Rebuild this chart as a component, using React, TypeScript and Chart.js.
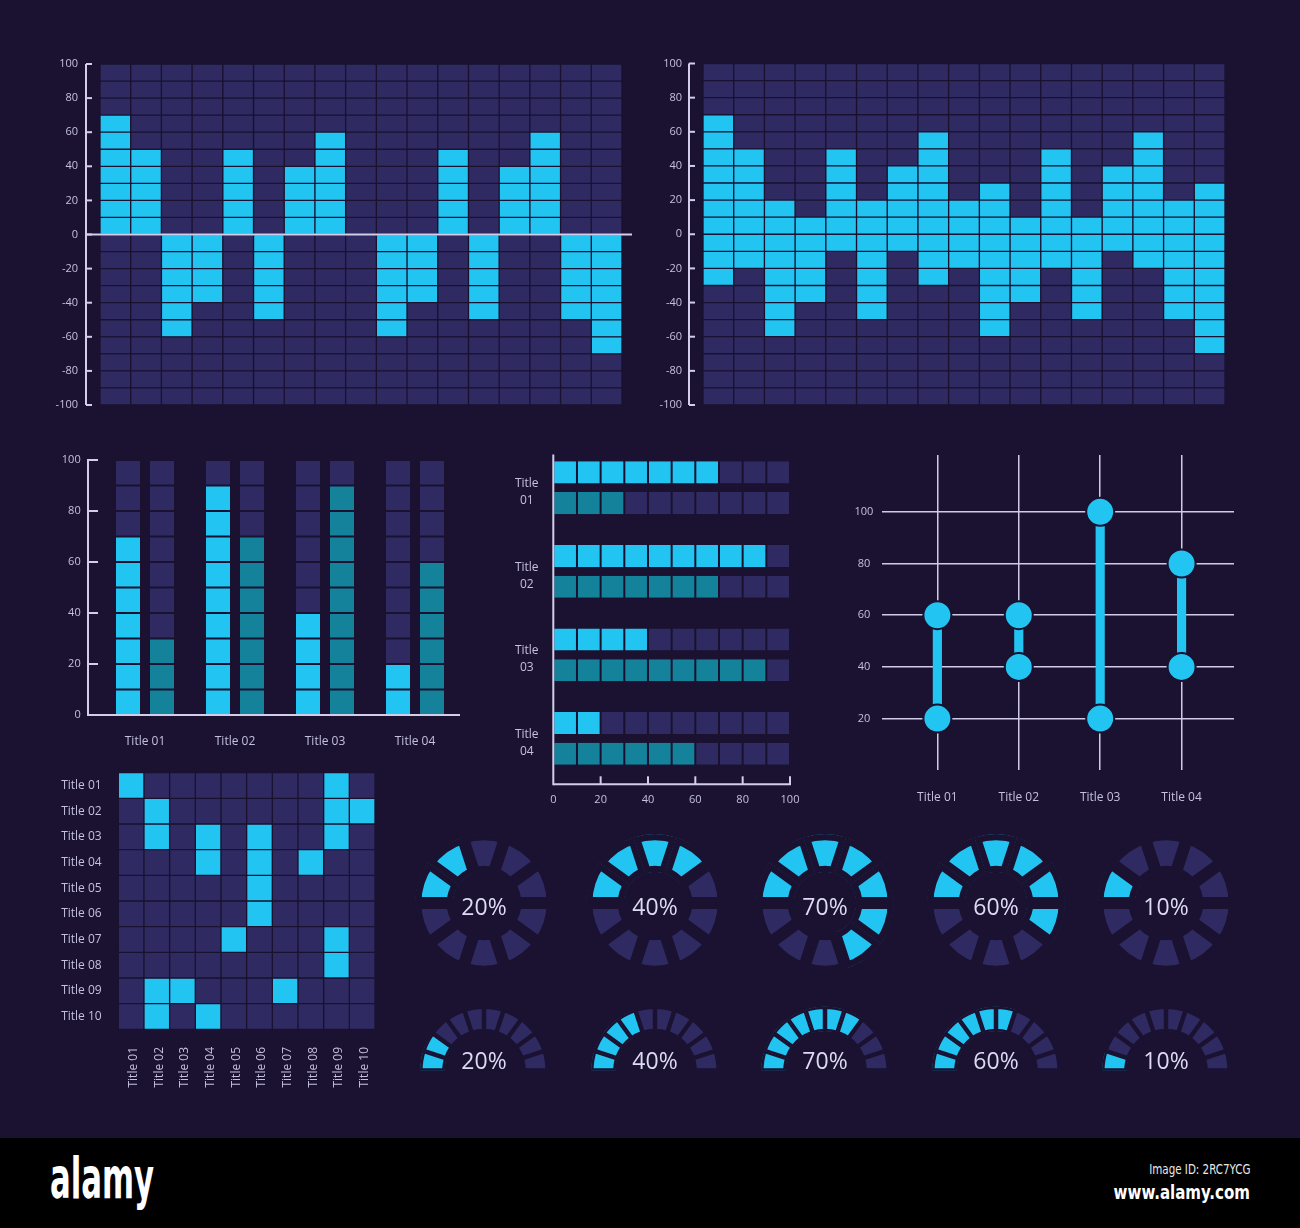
import React, { useEffect, useRef } from 'react';
import { Chart, registerables } from 'chart.js';

Chart.register(...registerables);

const BG = '#1a1230';
const CELL = '#2f2b62';
const CYAN = '#22c4f2';
const TEAL = '#15829b';
const TEXT = '#c4c0dd';
const AXIS = '#d2cee9';
const GRID = '#cfcbe6';
const PCT_TEXT = '#dedaf3';
const FONT = '"Open Sans", "Noto Sans", "DejaVu Sans", sans-serif';
const NARROW = '"Liberation Sans Narrow", "DejaVu Sans Condensed", sans-serif';

Chart.defaults.font.family = FONT;
Chart.defaults.color = TEXT;

// ---------------- data ----------------
const signedValues = [70, 50, -60, -40, 50, -50, 40, 60, 0, -60, -40, 50, -50, 40, 60, -50, -70];
const spanLows = [-30, -20, -60, -40, -10, -50, -10, -30, -20, -60, -40, -20, -50, -10, -20, -50, -70];
const spanHighs = [70, 50, 20, 10, 50, 20, 40, 60, 20, 30, 10, 50, 10, 40, 60, 20, 30];
const signedCellStarts = [-100, -90, -80, -70, -60, -50, -40, -30, -20, -10, 0, 10, 20, 30, 40, 50, 60, 70, 80, 90];
const signedTicks = [-100, -80, -60, -40, -20, 0, 20, 40, 60, 80, 100];
const percentCellStarts = [0, 10, 20, 30, 40, 50, 60, 70, 80, 90];
const percentTicks = [0, 20, 40, 60, 80, 100];
const CELL_STEP = 10;

const groupTitles = ['Title 01', 'Title 02', 'Title 03', 'Title 04'];
const primaryValues = [70, 90, 40, 20];
const secondaryValues = [30, 70, 90, 60];

const rangeStart = [20, 40, 20, 40];
const rangeEnd = [60, 60, 100, 80];
const rangeTicks = [20, 40, 60, 80, 100];

const matrixTitles = ['Title 01', 'Title 02', 'Title 03', 'Title 04', 'Title 05', 'Title 06', 'Title 07', 'Title 08', 'Title 09', 'Title 10'];
const matrixHits = [[1, 9], [2, 9, 10], [2, 4, 6, 9], [4, 6, 8], [6], [6], [5, 9], [9], [2, 3, 7], [2, 4]];

const gaugeValues = [20, 40, 70, 60, 10];
const gaugeSegments = [10, 10, 10, 10, 10, 10, 10, 10, 10, 10];

// ---------------- helpers ----------------
const base = () => ({
  responsive: false,
  maintainAspectRatio: false,
  animation: false as const,
  events: [] as any[],
  plugins: { legend: { display: false }, tooltip: { enabled: false } },
});

const fixedTicks = (vals: number[]) => (s: any) => {
  s.ticks = vals.map((value) => ({ value }));
};

function seg(ctx: CanvasRenderingContext2D, x1: number, y1: number, x2: number, y2: number, width = 2, color = AXIS) {
  ctx.save();
  ctx.beginPath();
  ctx.strokeStyle = color;
  ctx.lineWidth = width;
  ctx.lineCap = 'butt';
  ctx.moveTo(x1, y1);
  ctx.lineTo(x2, y2);
  ctx.stroke();
  ctx.restore();
}

const decor = (draw: (chart: any, ctx: CanvasRenderingContext2D) => void) => ({
  id: 'decor',
  afterDatasetsDraw(chart: any) {
    draw(chart, chart.ctx);
  },
});

const hidden = { display: false, drawTicks: false };

// ---------------- chart configs ----------------
function cellColumnsConfig(lows: number[], highs: number[], yWidth: number, pad: any, xMin: number, xMax: number, labelPad: number, zeroLine: boolean) {
  return {
    type: 'bar',
    data: {
      datasets: signedCellStarts.map((lo) => ({
        data: lows.map((_, i) => ({ x: i, y: [lo, lo + CELL_STEP] })),
        backgroundColor: lows.map((l, i) => (lo >= l && lo + CELL_STEP <= highs[i] ? CYAN : CELL)),
        borderColor: BG,
        borderWidth: 1,
        borderSkipped: false,
        grouped: false,
        categoryPercentage: 1,
        barPercentage: 1,
      })),
    },
    options: {
      ...base(),
      layout: { padding: pad },
      scales: {
        x: {
          type: 'linear',
          display: false,
          offset: false,
          min: xMin,
          max: xMax,
          afterBuildTicks: fixedTicks(lows.map((_, i) => i)),
        },
        y: {
          type: 'linear',
          min: -100,
          max: 100,
          afterFit: (s: any) => {
            s.width = yWidth;
          },
          afterBuildTicks: fixedTicks(signedTicks),
          ticks: { padding: labelPad, font: { size: 11 }, color: TEXT },
          grid: hidden,
          border: { display: false },
        },
      },
    },
    plugins: [
      decor((chart, ctx) => {
        const { left, right, top, bottom } = chart.chartArea;
        const ys = chart.scales.y;
        seg(ctx, left, top, left, bottom, 2);
        ys.ticks.forEach((t: any) => {
          const p = ys.getPixelForValue(t.value);
          seg(ctx, left, p, left + 6, p, 2);
        });
        if (zeroLine) {
          const p = ys.getPixelForValue(0);
          seg(ctx, left, p, right, p, 2);
        }
      }),
    ],
  };
}

const cellBars = (values: number[], stack: string, lit: string, horizontal: boolean, catPct: number, barPct: number) =>
  percentCellStarts.map((lo) => ({
    stack,
    data: values.map(() => [lo, lo + CELL_STEP]),
    backgroundColor: values.map((v) => (lo + CELL_STEP <= v ? lit : CELL)),
    borderColor: BG,
    borderWidth: horizontal ? { left: 1, right: 1, top: 0, bottom: 0 } : { top: 1, bottom: 1, left: 0, right: 0 },
    borderSkipped: false,
    categoryPercentage: catPct,
    barPercentage: barPct,
  }));

function columnConfig() {
  return {
    type: 'bar',
    data: {
      labels: groupTitles,
      datasets: [
        ...cellBars(primaryValues, 'A', CYAN, false, 0.7556, 0.706),
        ...cellBars(secondaryValues, 'B', TEAL, false, 0.7556, 0.706),
      ],
    },
    options: {
      ...base(),
      layout: { padding: { top: 28, right: 10, left: 0, bottom: 0 } },
      scales: {
        x: {
          stacked: true,
          afterFit: (s: any) => {
            s.height = 45;
          },
          grid: hidden,
          border: { display: false },
          ticks: { padding: 19.5, font: { size: 12 }, color: TEXT },
        },
        y: {
          type: 'linear',
          stacked: false,
          min: 0,
          max: 100,
          afterFit: (s: any) => {
            s.width = 60;
          },
          afterBuildTicks: fixedTicks(percentTicks),
          grid: hidden,
          border: { display: false },
          ticks: { padding: 19.3, font: { size: 11 }, color: TEXT },
        },
      },
    },
    plugins: [
      decor((chart, ctx) => {
        const { left, right } = chart.chartArea;
        const ys = chart.scales.y;
        const ax = left - 12;
        const y0 = ys.getPixelForValue(0);
        const y100 = ys.getPixelForValue(100);
        seg(ctx, ax, y100 - 1, ax, y0 + 1, 2);
        seg(ctx, ax, y0, right, y0, 2);
        ys.ticks.forEach((t: any) => {
          const p = ys.getPixelForValue(t.value);
          seg(ctx, ax, p, ax + 10, p, 2);
        });
      }),
    ],
  };
}

function rowConfig() {
  return {
    type: 'bar',
    data: {
      labels: groupTitles.map((t) => t.split(' ')),
      datasets: [
        ...cellBars(primaryValues, 'A', CYAN, true, 0.736, 0.717),
        ...cellBars(secondaryValues, 'B', TEAL, true, 0.736, 0.717),
      ],
    },
    options: {
      ...base(),
      indexAxis: 'y',
      layout: { padding: { top: 36, right: 26, left: 0, bottom: 0 } },
      scales: {
        y: {
          type: 'category',
          stacked: true,
          afterFit: (s: any) => {
            s.width = 58.3;
          },
          grid: hidden,
          border: { display: false },
          ticks: { crossAlign: 'center', padding: 14.7, labelOffset: 4.5, font: { size: 12, lineHeight: 1.4 }, color: TEXT },
        },
        x: {
          type: 'linear',
          stacked: false,
          min: 0,
          max: 100,
          afterFit: (s: any) => {
            s.height = 34.9;
          },
          afterBuildTicks: fixedTicks(percentTicks),
          grid: hidden,
          border: { display: false },
          ticks: { padding: 13.3, font: { size: 11 }, color: TEXT },
        },
      },
    },
    plugins: [
      decor((chart, ctx) => {
        const { top, bottom } = chart.chartArea;
        const xs = chart.scales.x;
        const ax = xs.getPixelForValue(0);
        const ay = bottom + 4.2;
        seg(ctx, ax, top + 8.5, ax, ay + 1, 2);
        seg(ctx, ax, ay, xs.getPixelForValue(100) + 1, ay, 2);
        xs.ticks.forEach((t: any) => {
          if (t.value > 0) {
            const p = xs.getPixelForValue(t.value);
            seg(ctx, p, ay, p, ay - 8, 2);
          }
        });
      }),
    ],
  };
}

function dumbbellConfig() {
  const pointStyle = {
    type: 'scatter',
    pointRadius: 14,
    pointBackgroundColor: CYAN,
    pointBorderColor: BG,
    pointBorderWidth: 2,
    order: 0,
  };
  return {
    type: 'bar',
    data: {
      datasets: [
        { ...pointStyle, data: rangeStart.map((v, i) => ({ x: i, y: v })) },
        { ...pointStyle, data: rangeEnd.map((v, i) => ({ x: i, y: v })) },
        {
          type: 'bar',
          data: rangeStart.map((v, i) => ({ x: i, y: [v, rangeEnd[i]] })),
          backgroundColor: CYAN,
          barThickness: 8.5,
          borderWidth: 0,
          order: 1,
        },
      ],
    },
    options: {
      ...base(),
      layout: { padding: { top: 16, right: 10, left: 0, bottom: 0 } },
      scales: {
        x: {
          type: 'linear',
          offset: false,
          min: -0.684,
          max: 3.644,
          afterFit: (s: any) => {
            s.height = 44.7;
          },
          afterBuildTicks: fixedTicks(groupTitles.map((_, i) => i)),
          grid: { color: GRID, lineWidth: 1.5, drawTicks: false, offset: false },
          border: { display: false },
          ticks: { padding: 20.5, font: { size: 12 }, color: TEXT, callback: (v: any) => groupTitles[v] ?? '' },
        },
        y: {
          type: 'linear',
          min: 0,
          max: 122,
          afterFit: (s: any) => {
            s.width = 51.7;
          },
          afterBuildTicks: fixedTicks(rangeTicks),
          grid: { color: GRID, lineWidth: 1.5, drawTicks: false },
          border: { display: false },
          ticks: { crossAlign: 'center', padding: 8.3, font: { size: 11 }, color: TEXT },
        },
      },
    },
  };
}

function matrixConfig() {
  return {
    type: 'bar',
    data: {
      labels: matrixTitles,
      datasets: matrixTitles.map((_, r) => ({
        data: matrixTitles.map(() => [r, r + 1]),
        backgroundColor: matrixTitles.map((__, c) => (matrixHits[r].includes(c + 1) ? CYAN : CELL)),
        borderColor: BG,
        borderWidth: 1,
        borderSkipped: false,
        grouped: false,
        categoryPercentage: 1,
        barPercentage: 1,
      })),
    },
    options: {
      ...base(),
      layout: { padding: { top: 24.7, right: 22, left: 0, bottom: 0 } },
      scales: {
        x: {
          afterFit: (s: any) => {
            s.height = 70.7;
          },
          grid: hidden,
          border: { display: false },
          ticks: { autoSkip: false, minRotation: 90, maxRotation: 90, padding: 17.7, labelOffset: 2.5, font: { size: 12 }, color: TEXT },
        },
        y: {
          type: 'linear',
          reverse: true,
          min: 0,
          max: 10,
          afterFit: (s: any) => {
            s.width = 83.3;
          },
          afterBuildTicks: fixedTicks(matrixTitles.map((_, i) => i + 0.5)),
          grid: hidden,
          border: { display: false },
          ticks: { autoSkip: false, padding: 16.6, font: { size: 12 }, color: TEXT, callback: (v: any) => matrixTitles[Math.floor(v)] },
        },
      },
    },
  };
}

function gaugeConfig(value: number, half: boolean) {
  let cum = 0;
  const colors = gaugeSegments.map((s) => {
    cum += s;
    return cum <= value ? CYAN : CELL;
  });
  return {
    type: 'doughnut',
    data: {
      datasets: [
        {
          data: gaugeSegments,
          backgroundColor: colors,
          borderColor: BG,
          borderWidth: half ? 2.25 : 6,
          borderAlign: 'inner',
        },
      ],
    },
    options: {
      ...base(),
      rotation: -90,
      circumference: half ? 180 : 360,
      radius: half ? 64 : 69,
      cutout: half ? '61.3%' : '44.9%',
    },
  };
}

// ---------------- components ----------------
function ChartBox({ x, y, w, h, make }: { x: number; y: number; w: number; h: number; make: () => any }) {
  const ref = useRef<HTMLCanvasElement | null>(null);
  useEffect(() => {
    if (!ref.current) return;
    const chart = new Chart(ref.current, make());
    return () => chart.destroy();
  }, []);
  return <canvas ref={ref} width={w} height={h} style={{ position: 'absolute', left: x, top: y, width: w, height: h, display: 'block' }} />;
}

function PctText({ cx, cy, value }: { cx: number; cy: number; value: number }) {
  return (
    <div
      style={{
        position: 'absolute',
        left: cx,
        top: cy,
        transform: 'translate(-50%, -50%)',
        font: `23px ${FONT}`,
        color: PCT_TEXT,
        lineHeight: 1,
        whiteSpace: 'nowrap',
      }}
    >
      {value}%
    </div>
  );
}

export default function App() {
  const gaugeX0 = 484;
  const gaugePitch = 170.5;
  return (
    <div style={{ position: 'absolute', left: 0, top: 0, width: 1300, height: 1228, background: BG, overflow: 'hidden', fontFamily: FONT }}>
      <ChartBox x={30} y={49} w={610} h={371} make={() => cellColumnsConfig(signedValues.map((v) => Math.min(0, v)), signedValues.map((v) => Math.max(0, v)), 56, { top: 15, right: 8, bottom: 15, left: 0 }, -0.956, 16.826, 8, true)} />
      <ChartBox x={630} y={49} w={610} h={371} make={() => cellColumnsConfig(spanLows, spanHighs, 59, { top: 14.5, right: 15, bottom: 15, left: 0 }, -0.956, 16.5, 7, false)} />
      <ChartBox x={40} y={432} w={430} h={328} make={columnConfig} />
      <ChartBox x={495} y={410} w={321} h={405} make={rowConfig} />
      <ChartBox x={830} y={439} w={420} h={376} make={dumbbellConfig} />
      <ChartBox x={35} y={748} w={362} h={352} make={matrixConfig} />
      {gaugeValues.map((v, i) => {
        const cx = gaugeX0 + i * gaugePitch;
        const left = Math.round(cx - 75);
        return (
          <React.Fragment key={i}>
            <ChartBox x={left} y={828} w={150} h={150} make={() => gaugeConfig(v, false)} />
            <PctText cx={left + 75} cy={906} value={v} />
            <ChartBox x={left} y={1000} w={150} h={77} make={() => gaugeConfig(v, true)} />
            <PctText cx={left + 75} cy={1060} value={v} />
          </React.Fragment>
        );
      })}
      <div style={{ position: 'absolute', left: 0, top: 1138, width: 1300, height: 90, background: '#000' }}>
        <div
          style={{
            position: 'absolute',
            left: 50,
            top: 6,
            font: `bold 57px ${NARROW}`,
            color: '#fff',
            transform: 'scaleX(0.6)',
            transformOrigin: 'left top',
            lineHeight: 1.2,
            whiteSpace: 'nowrap',
          }}
        >
          alamy
        </div>
        <div
          style={{
            position: 'absolute',
            right: 50,
            top: 23,
            font: `14px ${NARROW}`,
            color: '#e8e8e8',
            lineHeight: 1.2,
            transform: 'scaleX(0.82)',
            transformOrigin: 'right top',
            whiteSpace: 'nowrap',
          }}
        >
          Image ID: 2RC7YCG
        </div>
        <div
          style={{
            position: 'absolute',
            right: 50,
            top: 43,
            font: `bold 19px ${NARROW}`,
            color: '#fff',
            lineHeight: 1.2,
            transform: 'scaleX(0.88)',
            transformOrigin: 'right top',
            whiteSpace: 'nowrap',
          }}
        >
          www.alamy.com
        </div>
      </div>
    </div>
  );
}
